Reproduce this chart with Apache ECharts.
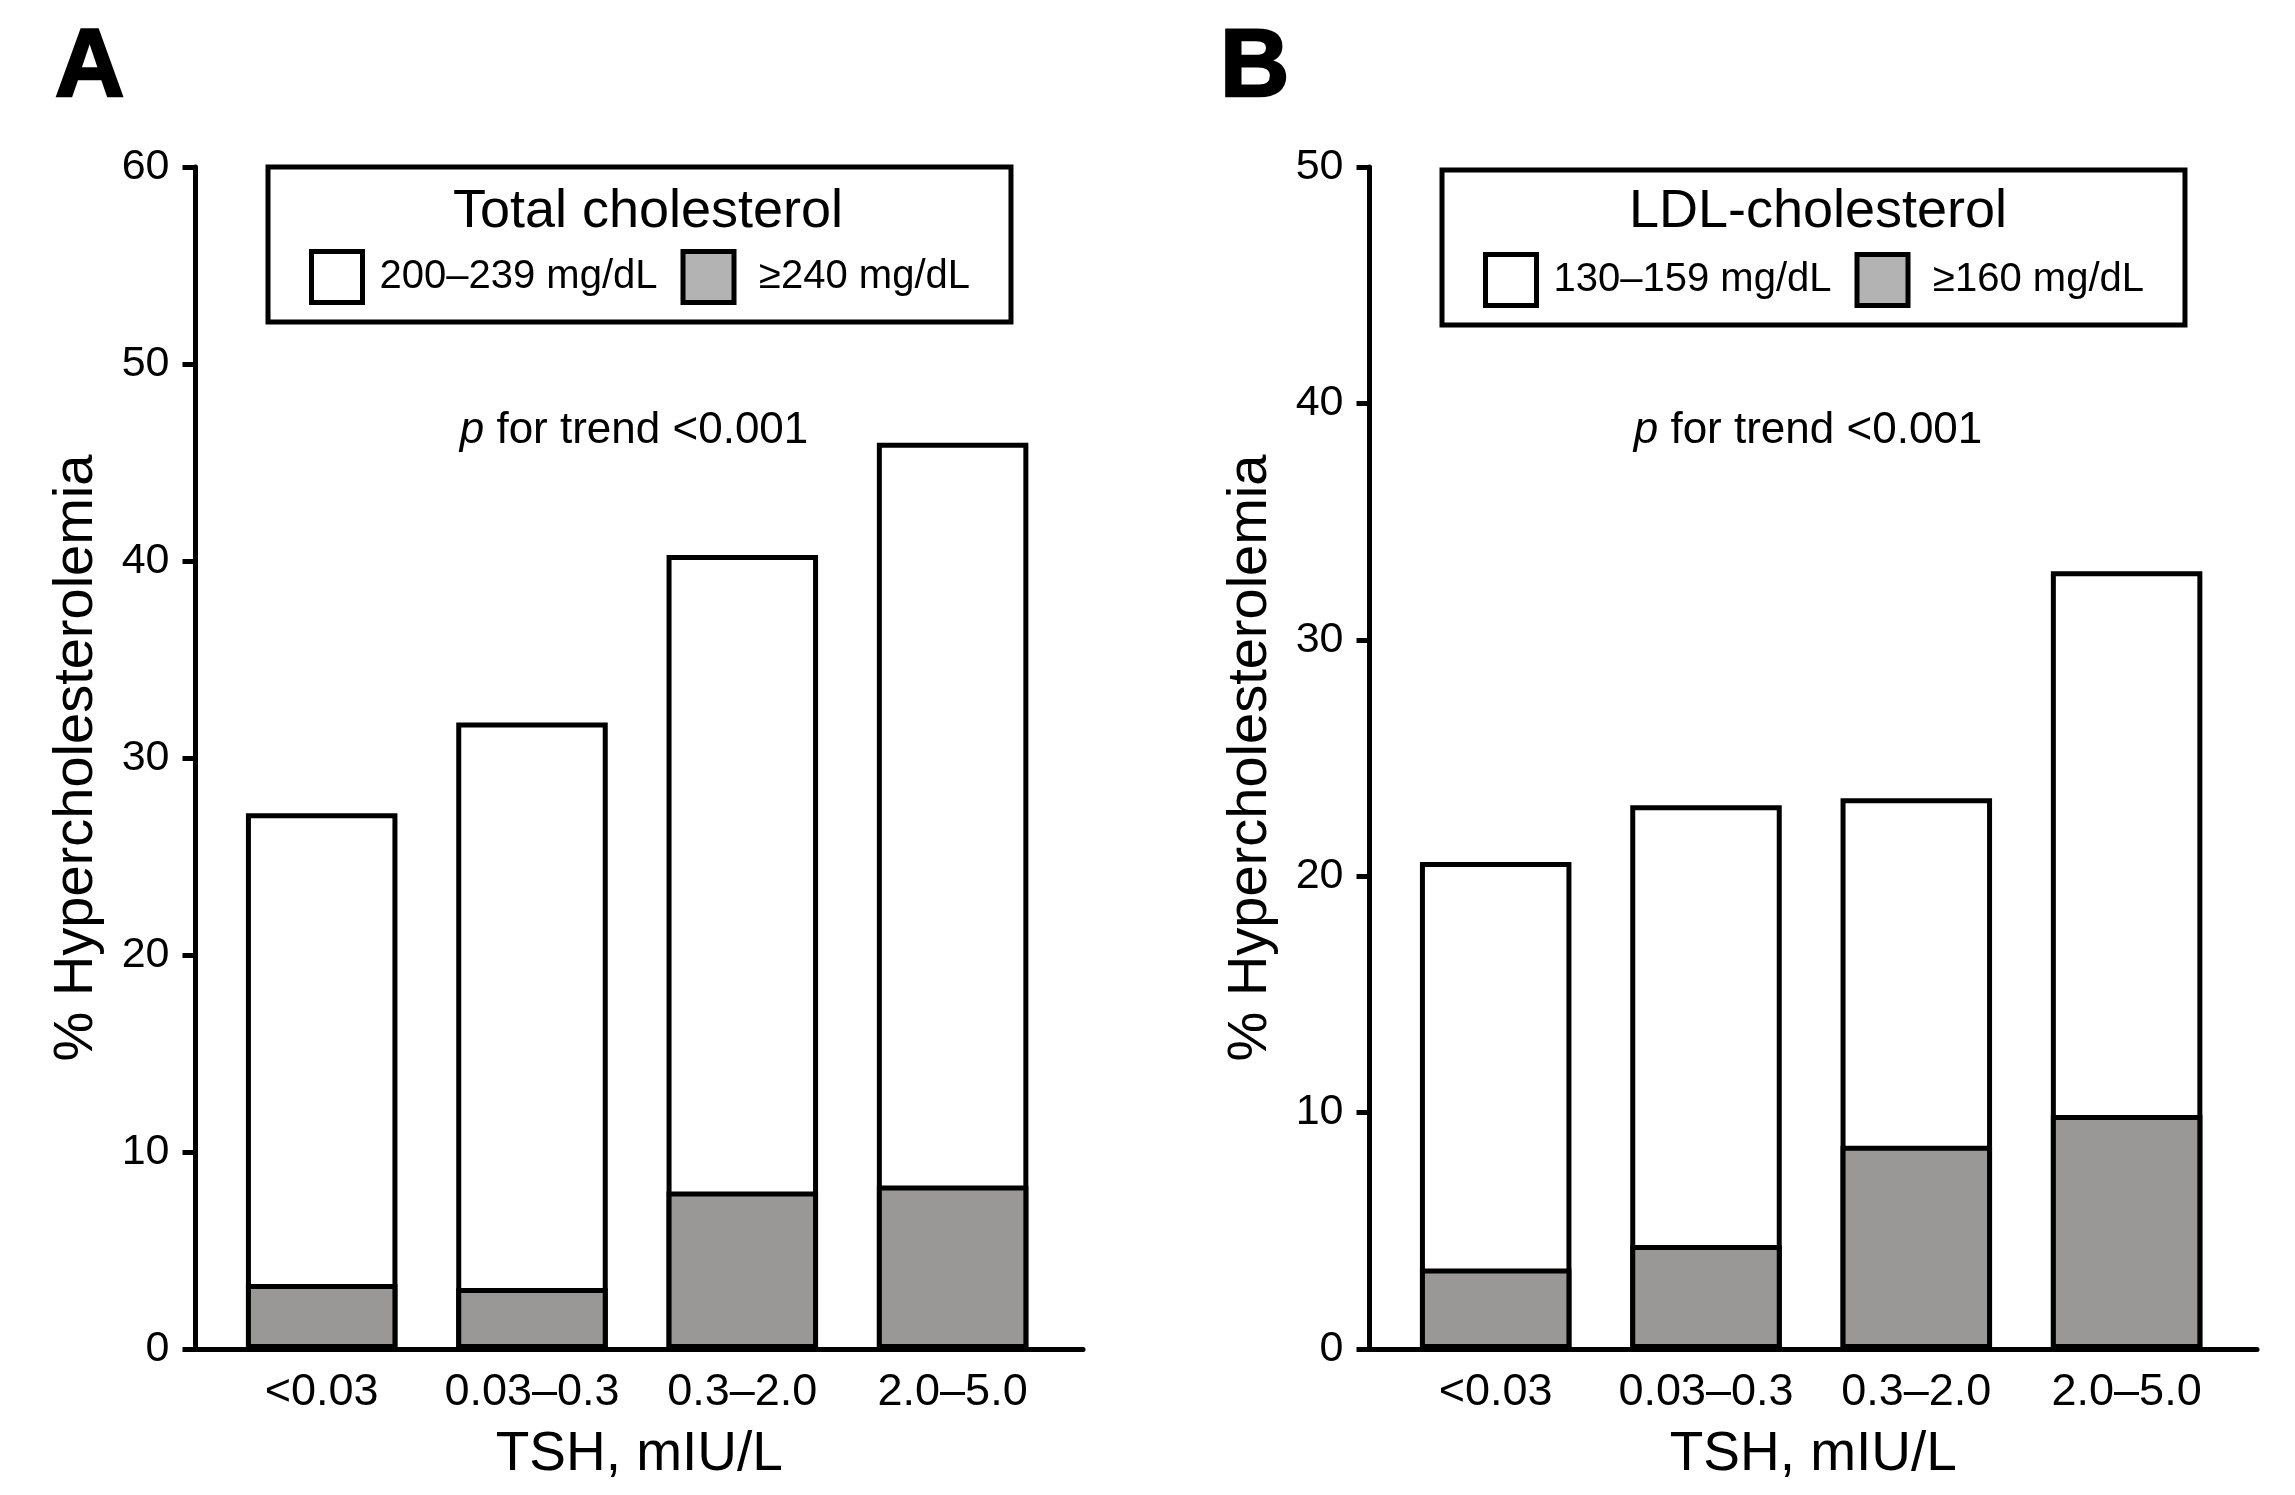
<!DOCTYPE html>
<html>
<head>
<meta charset="utf-8">
<script src="https://cdn.jsdelivr.net/npm/echarts@6/dist/echarts.min.js"></script>
<style>
html,body{margin:0;padding:0;background:#fff;}
#chart{width:2295px;height:1495px;}
</style>
</head>
<body>
<div id="chart"></div>
<script>
// ---- data ----
const categories = ['<0.03', '0.03\u20130.3', '0.3\u20132.0', '2.0\u20135.0'];
const catIndex = [0, 1, 2, 3];

// Panel A: Total cholesterol (bar top = any hypercholesterolemia, grey = >=240)
const totalA = [27.2, 31.8, 40.3, 46.0];
const highA  = [3.3, 3.1, 8.0, 8.3];
// Panel B: LDL-cholesterol (bar top = >=130, grey = >=160)
const totalB = [20.6, 23.0, 23.3, 32.9];
const highB  = [3.4, 4.4, 8.6, 9.9];

const nameA1 = '200\u2013239 mg/dL', nameA2 = '\u2265240 mg/dL';
const nameB1 = '130\u2013159 mg/dL', nameB2 = '\u2265160 mg/dL';
const yMaxA = 60, yMaxB = 50, yStep = 10;

// ---- style ----
const FONT = "'Liberation Sans', Arial, Helvetica, sans-serif";
const BLACK = '#000';
const GREY_BAR = '#999896';
const GREY_KEY = '#b3b3b3';
const LW = 5;

const chart = echarts.init(document.getElementById('chart'), null, {renderer: 'canvas'});

function pairs(arr) { return arr.map((v, i) => [catIndex[i], v]); }

function xAxisCfg(gridIndex) {
  return {
    type: 'value', gridIndex: gridIndex, min: -0.6, max: 3.62,
    name: 'TSH, mIU/L', nameLocation: 'middle', nameGap: 78,
    nameTextStyle: {fontFamily: FONT, fontSize: 55, color: BLACK},
    axisLine: {show: true, onZero: false, lineStyle: {color: BLACK, width: LW}},
    axisTick: {show: false},
    splitLine: {show: false},
    axisLabel: {
      customValues: catIndex, margin: 21,
      fontFamily: FONT, fontSize: 45, color: BLACK,
      formatter: v => categories[Math.round(v)]
    }
  };
}
function yAxisCfg(gridIndex, max) {
  return {
    type: 'value', gridIndex: gridIndex, min: 0, max: max, interval: yStep,
    name: '% Hypercholesterolemia', nameLocation: 'middle', nameGap: 91,
    nameTextStyle: {fontFamily: FONT, fontSize: 56, color: BLACK},
    axisLine: {show: true, onZero: false, lineStyle: {color: BLACK, width: LW}},
    axisTick: {show: true, inside: false, length: 13, lineStyle: {color: BLACK, width: LW}},
    splitLine: {show: false},
    axisLabel: {margin: 26, fontFamily: FONT, fontSize: 43, color: BLACK}
  };
}
function barSeries(name, data, idx, color) {
  return {
    type: 'bar', name: name, data: pairs(data),
    xAxisIndex: idx, yAxisIndex: idx,
    barWidth: 151.5, barGap: '-100%',
    itemStyle: {color: color, borderColor: BLACK, borderWidth: LW},
    emphasis: {disabled: true},
    silent: true, animation: false
  };
}
function legendCfg(left, top, n1, n2) {
  return {
    left: left, top: top, orient: 'horizontal',
    padding: [82, 41, 17, 41],
    borderColor: BLACK, borderWidth: LW,
    itemWidth: 51, itemHeight: 51, itemGap: 23,
    icon: 'rect', selectedMode: false,
    itemStyle: {borderColor: BLACK, borderWidth: LW},
    textStyle: {fontFamily: FONT, fontSize: 40, color: BLACK},
    data: [
      {name: n1, itemStyle: {color: '#fff', borderColor: BLACK, borderWidth: LW},
       textStyle: {padding: [0, 0, 0, 12]}},
      {name: n2, itemStyle: {color: GREY_KEY, borderColor: BLACK, borderWidth: LW},
       textStyle: {padding: [0, 0, 0, 20]}}
    ]
  };
}
function textTitle(text, left, top, size, weight, align, heavy) {
  const ts = {
    fontFamily: FONT, fontSize: size, fontWeight: weight || 'normal', color: BLACK,
    rich: {i: {fontFamily: FONT, fontSize: size, fontStyle: 'italic', color: BLACK}}
  };
  if (heavy) { ts.textBorderColor = BLACK; ts.textBorderWidth = 2.5; }
  return {text: text, left: left, top: top, padding: 0, textAlign: align || 'left', textStyle: ts};
}

const option = {
  backgroundColor: '#fff',
  animation: false,
  title: [
    textTitle('A', 55, 22, 96, 'bold', 'left', true),
    textTitle('B', 1220, 22, 96, 'bold', 'left', true),
    textTitle('Total cholesterol', 648, 185, 54, 'normal', 'center'),
    textTitle('LDL-cholesterol', 1818, 185, 54, 'normal', 'center'),
    textTitle('{i|p} for trend <0.001', 634, 409, 44, 'normal', 'center'),
    textTitle('{i|p} for trend <0.001', 1808, 409, 44, 'normal', 'center')
  ],
  legend: [
    legendCfg(268, 167, nameA1, nameA2),
    legendCfg(1442, 170, nameB1, nameB2)
  ],
  grid: [
    {left: 195.5, top: 167, width: 887.5, height: 1182, containLabel: false},
    {left: 1369.5, top: 167, width: 887.5, height: 1182, containLabel: false}
  ],
  xAxis: [xAxisCfg(0), xAxisCfg(1)],
  yAxis: [yAxisCfg(0, yMaxA), yAxisCfg(1, yMaxB)],
  series: [
    barSeries(nameA1, totalA, 0, '#fff'),
    barSeries(nameA2, highA, 0, GREY_BAR),
    barSeries(nameB1, totalB, 1, '#fff'),
    barSeries(nameB2, highB, 1, GREY_BAR)
  ]
};
chart.setOption(option);
</script>
</body>
</html>
